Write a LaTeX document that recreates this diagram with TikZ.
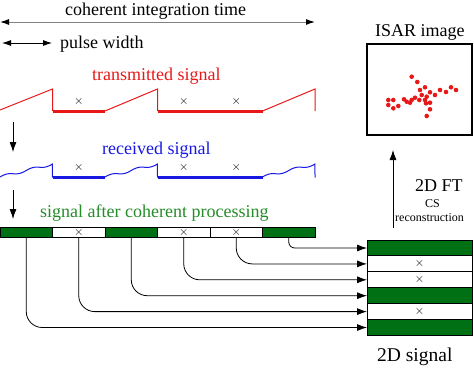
\documentclass[tikz,border=0pt]{standalone}
\usepackage{fontspec}
\setmainfont{Liberation Serif}
\usetikzlibrary{positioning,arrows.meta}
\definecolor{sigred}{RGB}{232,24,24}
\definecolor{sigblue}{RGB}{24,24,226}
\definecolor{siggreen}{RGB}{0,112,20}
\definecolor{labgreen}{RGB}{36,140,40}
\definecolor{axisgray}{RGB}{130,130,130}

\begin{document}
\begin{tikzpicture}[x=1pt,y=-1pt,font=\fontsize{18}{20}\selectfont,
    lab/.style={anchor=base west,inner sep=0pt},
    xmark/.style={font=\fontsize{12}{12}\selectfont,inner sep=0pt},
    cell/.style={draw=black,line width=0.8pt,minimum width=52.5pt,
                 minimum height=10pt,inner sep=0pt,outer sep=0pt,
                 font=\fontsize{12}{12}\selectfont},
    gcell/.style={cell,fill=siggreen},
    wcell/.style={cell,fill=white},
    slot/.style={draw=black,line width=1pt,minimum width=105pt,
                 minimum height=15.9pt,inner sep=0pt,outer sep=0pt,
                 font=\fontsize{12}{12}\selectfont},
    gslot/.style={slot,fill=siggreen},
    tip/.style={-{Latex[length=10pt,width=7pt]}},
    conn/.style={tip,line width=0.8pt,rounded corners=16pt}]
  \useasboundingbox (0,0) rectangle (474,367);

  % integration time and pulse width
  \coordinate (tl) at (0,22);
  \coordinate (tr) at (315,22);
  \draw[axisgray,line width=1pt,
        {Latex[black,length=9pt,width=6pt]}-{Latex[black,length=9pt,width=6pt]}]
        (tl) -- (tr);
  \node[lab] (tlab) at (65,15) {coherent integration time};
  \coordinate (pl) at (2,43);
  \coordinate (pr) at (52,43);
  \draw[line width=0.8pt,
        {Latex[length=9pt,width=6pt]}-{Latex[length=9pt,width=6pt]}] (pl) -- (pr);
  \node[lab] (plab) at (60,48) {pulse width};

  % transmitted signal
  \node[lab,sigred] (txlab) at (92,80) {transmitted signal};
  \draw[sigred,line width=1pt] (0,110)--(52.5,89)--(52.5,111)
       (105,111)--(157.5,89)--(157.5,111) (262.5,111)--(315,89)--(315,111);
  \draw[sigred,line width=3pt] (52.5,111)--(105,111) (157.5,111)--(262.5,111);
  \foreach \xc in {78.75,183.75,236.25}
    \node[xmark] at (\xc,101) {$\times$};

  \coordinate (d1a) at (13,122);
  \coordinate (d1b) at (13,152);
  \draw[tip,line width=0.8pt] (d1a) -- (d1b);

  % received signal
  \node[lab,sigblue] (rxlab) at (102,154) {received signal};
  \foreach \xa in {0,105,262.5}{
    \draw[sigblue,line width=1pt]
      plot[domain=0:1,samples=40,smooth]
        ({\xa+52.5*\x},{177-13*\x-1.3*sin(720*\x)})
      -- ({\xa+52.5},177.5);
  }
  \draw[sigblue,line width=3pt] (52.5,177.5)--(105,177.5) (157.5,177.5)--(262.5,177.5);
  \foreach \xc in {78.75,183.75,236.25}
    \node[xmark] at (\xc,167) {$\times$};

  \coordinate (d2a) at (13,190);
  \coordinate (d2b) at (13,219);
  \draw[tip,line width=0.8pt] (d2a) -- (d2b);

  % signal after coherent processing
  \node[lab,labgreen] (cplab) at (40,217) {signal after coherent processing};
  \node[gcell] (c1) at (26.25,232) {};
  \node[wcell,right=0pt of c1] (c2) {$\times$};
  \node[gcell,right=0pt of c2] (c3) {};
  \node[wcell,right=0pt of c3] (c4) {$\times$};
  \node[wcell,right=0pt of c4] (c5) {$\times$};
  \node[gcell,right=0pt of c5] (c6) {};

  % 2D signal
  \node[gslot] (r1) at (419.5,248) {};
  \node[slot,below=0pt of r1] (r2) {$\times$};
  \node[slot,below=0pt of r2] (r3) {$\times$};
  \node[gslot,below=0pt of r3] (r4) {};
  \node[slot,below=0pt of r4] (r5) {$\times$};
  \node[gslot,below=0pt of r5] (r6) {};
  \node[lab,font=\fontsize{19.5}{22}\selectfont] (sig2d) at (377,361.5) {2D signal};

  \draw[conn,rounded corners=6pt] (c6.south) |- (r1.west);
  \foreach \c/\r in {5/2,4/3,3/4,2/5,1/6}
    \draw[conn] (c\c.south) |- (r\r.west);

  % ISAR image
  \node[draw,line width=1.3pt,minimum width=105pt,minimum height=91pt,
        inner sep=0pt] (isar) at (419.5,89.5) {};
  \node[lab] (isarlab) at (375,36) {ISAR image};
  \foreach \px/\py in {411.7/76.7,417.3/82,425/87.3,420/90,430/92.3,421.7/95,
      426.7/96.7,435/95,440/90,446/92,451/87.3,456/90,415/97.7,419.3/100,
      425/100,430/102.7,426/103.3,430/109.3,426.7/116,410/102.7,406.7/101.7,
      404/99.3,398.3/106,393.3/108.3,388.3/105,388.3/100,393.3/100,411.7/100}
    \fill[sigred] (\px,\py) circle (2.3pt);

  \coordinate (ftlow) at (393,228);
  \coordinate (fthigh) at (393,150);
  \draw[tip,line width=0.8pt] (ftlow) -- (fthigh);
  \node[lab] (ftlab) at (415,191) {2D FT};
  \node[lab,font=\fontsize{12}{12}\selectfont] (cslab) at (425,207) {CS};
  \node[lab,font=\fontsize{12}{12}\selectfont] (reclab) at (395,221) {reconstruction};
\end{tikzpicture}
\end{document}
